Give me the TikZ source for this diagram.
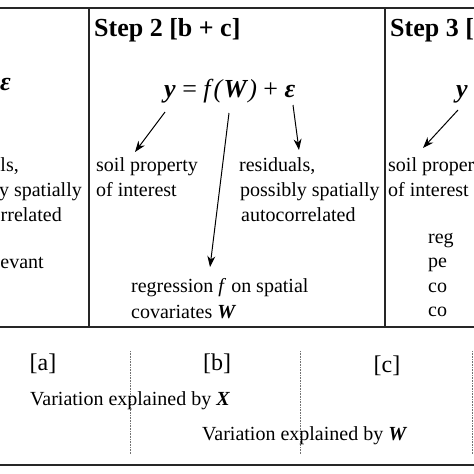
\documentclass[tikz,border=0pt]{standalone}
\usepackage{fontspec}
\setmainfont{Liberation Serif}
\usetikzlibrary{arrows.meta}
\begin{document}
\begin{tikzpicture}[x=1pt,y=-1pt,
  txt/.style={font=\fontsize{20}{24}\selectfont, inner sep=0pt},
  head/.style={font=\fontsize{26}{30}\selectfont\bfseries, inner sep=0pt},
  eqn/.style={font=\fontsize{26}{30}\selectfont, inner sep=0pt},
  brk/.style={font=\fontsize{24}{28}\selectfont, inner sep=0pt},
  frame/.style={draw=black!85, line width=1.8pt},
  vline/.style={draw=black!85, line width=1.3pt},
  dots/.style={draw=black!55, line width=0.9pt, dash pattern=on 0.8pt off 0.8pt},
  arr/.style={-{Stealth[length=11pt,width=8pt,inset=3.5pt]}, line width=1pt}
]
\useasboundingbox (0,0) rectangle (474,474);
\fill[white] (0,0) rectangle (474,474);
\clip (0,0) rectangle (474,474);

% frames
\draw[frame] (0,8) -- (474,8);
\draw[frame] (0,327) -- (474,327);
\draw[frame] (0,465) -- (474,465);
\draw[vline] (89,8) -- (89,327);
\draw[vline] (385,8) -- (385,327);
\draw[dots] (130,351) -- (130,454);
\draw[dots] (300,351) -- (300,454);
\draw[dots] (472,351) -- (472,454);

% step 1 fragments
\node[eqn, anchor=base east] (e1) at (11,90) {\textbf{\textit{ε}}};
\node[txt, anchor=base east] (l1a) at (19,171) {ls,};
\node[txt, anchor=base east] (l1b) at (82,196) {y spatially};
\node[txt, anchor=base east] (l1c) at (62,221) {rrelated};
\node[txt, anchor=base east] (l1d) at (44,268) {evant};

% step 2
\node[head, anchor=base west] (h2) at (94,36) {Step 2 [b + c]};
\node[eqn, anchor=base west] (eq2) at (164,97) {\textbf{\textit{y}} = \textit{f}\textit{(}\textbf{\textit{W}}\textit{)} + \textbf{\textit{ε}}};
\node[txt, anchor=base west] (s2a) at (96,171) {soil property};
\node[txt, anchor=base west] (s2b) at (96,196) {of interest};
\node[txt, anchor=base west] (r2a) at (239,171) {residuals,};
\node[txt, anchor=base west] (r2b) at (240,196) {possibly spatially};
\node[txt, anchor=base west] (r2c) at (241,221) {autocorrelated};
\node[txt, anchor=base west] (g2a) at (131,292) {regression \textit{f} on spatial};
\node[txt, anchor=base west] (g2b) at (131,318) {covariates \textbf{\textit{W}}};

\coordinate (y2s) at (165,112);
\coordinate (y2t) at (135,152);
\coordinate (f2s) at (229,113);
\coordinate (f2t) at (210,267);
\coordinate (e2s) at (293,105);
\coordinate (e2t) at (299,150);
\draw[arr] (y2s) -- (y2t);
\draw[arr] (f2s) -- (f2t);
\draw[arr] (e2s) -- (e2t);

% step 3 fragments
\node[head, anchor=base west] (h3) at (390,36) {Step 3 [};
\node[eqn, anchor=base west] (eq3) at (456,97) {\textbf{\textit{y}}};
\node[txt, anchor=base west] (s3a) at (388,171) {soil proper};
\node[txt, anchor=base west] (s3b) at (388,196) {of interest};
\node[txt, anchor=base west] (g3a) at (428,243) {reg};
\node[txt, anchor=base west] (g3b) at (428,267) {pe};
\node[txt, anchor=base west] (g3c) at (428,292) {co};
\node[txt, anchor=base west] (g3d) at (428,316) {co};
\coordinate (y3s) at (458,110);
\coordinate (y3t) at (423,148);
\draw[arr] (y3s) -- (y3t);

% bottom
\node[brk, anchor=base] (ba) at (43,370) {[a]};
\node[brk, anchor=base] (bb) at (217,370) {[b]};
\node[brk, anchor=base] (bc) at (387,372) {[c]};
\node[txt, anchor=base west] (vx) at (30,405) {Variation explained by \textbf{\textit{X}}};
\node[txt, anchor=base west] (vw) at (202,440) {Variation explained by \textbf{\textit{W}}};
\end{tikzpicture}
\end{document}
